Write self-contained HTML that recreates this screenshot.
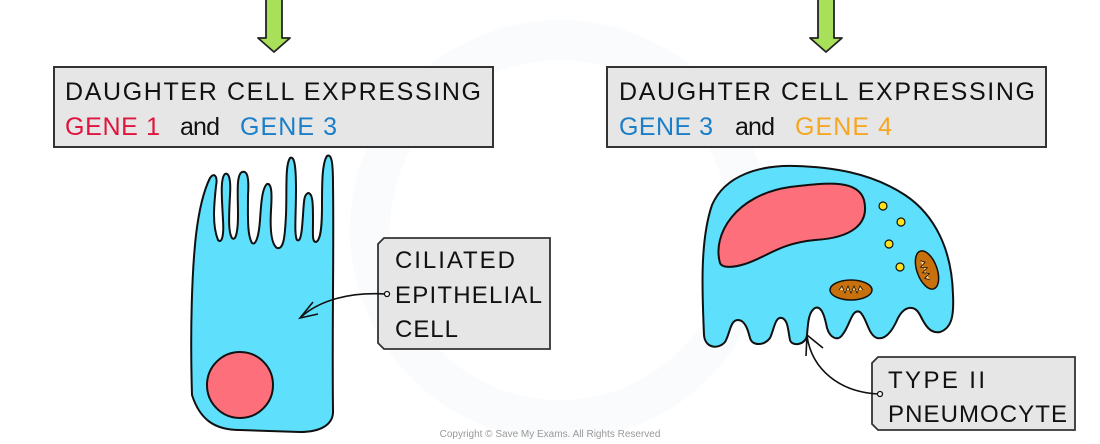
<!DOCTYPE html>
<html><head><style>
html,body{margin:0;padding:0;background:#fff;}
svg{display:block;}
text{font-family:"Liberation Sans",sans-serif;}
</style></head><body>
<svg width="1100" height="444" viewBox="0 0 1100 444" xmlns="http://www.w3.org/2000/svg">
<!-- faint watermark -->
<circle cx="560" cy="230" r="190" fill="none" stroke="#f9fbfd" stroke-width="40"/>
<!-- arrows -->
<g fill="#a8e05a" stroke="#222" stroke-width="1.8" stroke-linejoin="round">
<path d="M266,-2 L282,-2 L282,38 L290,38 L274,52 L258,38 L266,38 Z"/>
<path d="M818,-2 L834,-2 L834,38 L842,38 L826,52 L810,38 L818,38 Z"/>
</g>
<!-- header boxes -->
<rect x="54" y="67" width="439" height="80" fill="#e6e6e6" stroke="#333" stroke-width="2"/>
<rect x="607" y="67" width="439" height="80" fill="#e6e6e6" stroke="#333" stroke-width="2"/>
<g font-size="25">
<text x="65" y="100" textLength="416" lengthAdjust="spacing" fill="#111">DAUGHTER  CELL  EXPRESSING</text>
<text x="65" y="135" textLength="95" fill="#e0143c">GENE 1</text>
<text x="180" y="135" textLength="40" fill="#111">and</text>
<text x="240" y="135" textLength="97" fill="#1a7ec8">GENE 3</text>
<text x="619" y="100" textLength="416" lengthAdjust="spacing" fill="#111">DAUGHTER  CELL  EXPRESSING</text>
<text x="619" y="135" textLength="94" fill="#1a7ec8">GENE 3</text>
<text x="735" y="135" textLength="40" fill="#111">and</text>
<text x="795" y="135" textLength="97" fill="#f5a623">GENE 4</text>
</g>
<!-- ciliated cell -->
<path d="M192,395 C190,330 192,270 196,235 C199,210 204,190 210,178 C214,172 218,176 216,186 C214,205 212,225 218,240 C222,244 224,235 223,220 C222,200 220,178 225,174 C229,172 231,180 230,195 C229,215 228,232 232,238 C236,242 238,230 238,215 C238,195 236,175 242,172 C248,170 249,180 248,195 C248,215 247,235 252,243 C256,246 259,235 260,220 C261,205 262,188 267,184 C272,183 272,195 271,210 C270,228 271,244 277,248 C284,250 285,235 286,215 C287,190 285,165 290,158 C295,155 296,170 296,190 C296,215 294,235 297,240 C301,243 302,230 303,215 C304,200 304,195 308,193 C313,193 313,205 313,220 C313,235 312,242 316,242 C321,240 322,225 322,205 C322,185 322,163 327,156 C332,153 333,165 333,185 C334,250 332,330 333,410 C334,425 320,432 300,432 L240,430 C215,430 200,420 192,395 Z" fill="#5ee0fc" stroke="#111" stroke-width="2"/>
<circle cx="240" cy="385" r="33" fill="#fd6f7a" stroke="#111" stroke-width="2"/>
<!-- ciliated label -->
<path d="M384,238 L550,238 L550,349 L384,349 L378,343 L378,244 Z" fill="#e6e6e6" stroke="#333" stroke-width="1.8"/>
<g font-size="24" fill="#111">
<text x="395" y="268" textLength="120">CILIATED</text>
<text x="395" y="303" textLength="147">EPITHELIAL</text>
<text x="395" y="337" textLength="63">CELL</text>
</g>
<path d="M385,294 C350,292 320,300 301,317" fill="none" stroke="#111" stroke-width="1.6"/>
<path d="M313,302 L300,318 L318,314" fill="none" stroke="#111" stroke-width="1.6"/>
<circle cx="387" cy="294" r="2.5" fill="#fff" stroke="#111" stroke-width="1.3"/>
<!-- pneumocyte -->
<path d="M704,335 C702,290 700,240 712,205 C725,175 760,165 795,166 C830,167 870,172 905,195 C935,215 952,250 953,295 C954,315 952,328 940,332 C930,334 925,325 920,315 C915,305 905,305 898,318 C892,332 885,340 877,338 C868,335 867,318 860,312 C852,308 850,325 843,334 C838,342 830,338 827,328 C825,318 822,305 815,308 C808,312 808,325 807,335 C806,345 792,347 790,340 C788,330 788,320 782,318 C775,316 774,330 770,338 C764,346 752,346 750,338 C748,330 745,320 738,320 C730,320 730,334 725,342 C718,350 705,348 704,335 Z" fill="#5ee0fc" stroke="#111" stroke-width="2"/>
<path d="M720,263 C712,235 735,195 790,187 C830,182 858,180 864,200 C870,225 850,238 815,240 C780,243 765,258 745,264 C732,268 722,268 720,263 Z" fill="#fd6f7a" stroke="#111" stroke-width="2"/>
<g fill="#ffe21a" stroke="#111" stroke-width="1.2">
<circle cx="883" cy="206" r="4"/><circle cx="901" cy="222" r="4"/>
<circle cx="889" cy="244" r="4"/><circle cx="900" cy="267" r="4"/>
</g>
<ellipse cx="851" cy="290" rx="21" ry="10" fill="#c8700c" stroke="#111" stroke-width="1.5"/>
<path d="M839,290 l3,-4 l3,7 l3,-7 l3,7 l3,-7 l3,7 l3,-7 l3,4" fill="#f8d58a" stroke="#111" stroke-width="0.8"/>
<ellipse cx="927" cy="270" rx="10" ry="20" transform="rotate(-20 927 270)" fill="#c8700c" stroke="#111" stroke-width="1.5"/>
<path d="M924,259 l4,3 l-6,3 l6,3 l-6,3 l6,3 l-6,3 l4,3" fill="#f8d58a" stroke="#111" stroke-width="0.8" transform="rotate(-20 927 270)"/>
<!-- pneumocyte label -->
<path d="M878,357 L1075,357 L1075,430 L878,430 L872,424 L872,363 Z" fill="#e6e6e6" stroke="#333" stroke-width="1.8"/>
<g font-size="24" fill="#111">
<text x="888" y="388" textLength="97">TYPE II</text>
<text x="888" y="422" textLength="179">PNEUMOCYTE</text>
</g>
<path d="M878,394 C840,392 812,370 807,336" fill="none" stroke="#111" stroke-width="1.6"/>
<path d="M806,356 L807,335 L823,348" fill="none" stroke="#111" stroke-width="1.6"/>
<circle cx="880" cy="394" r="2.5" fill="#fff" stroke="#111" stroke-width="1.3"/>
<text x="550" y="437" font-size="10" fill="#999" text-anchor="middle">Copyright © Save My Exams. All Rights Reserved</text>
</svg>
</body></html>
